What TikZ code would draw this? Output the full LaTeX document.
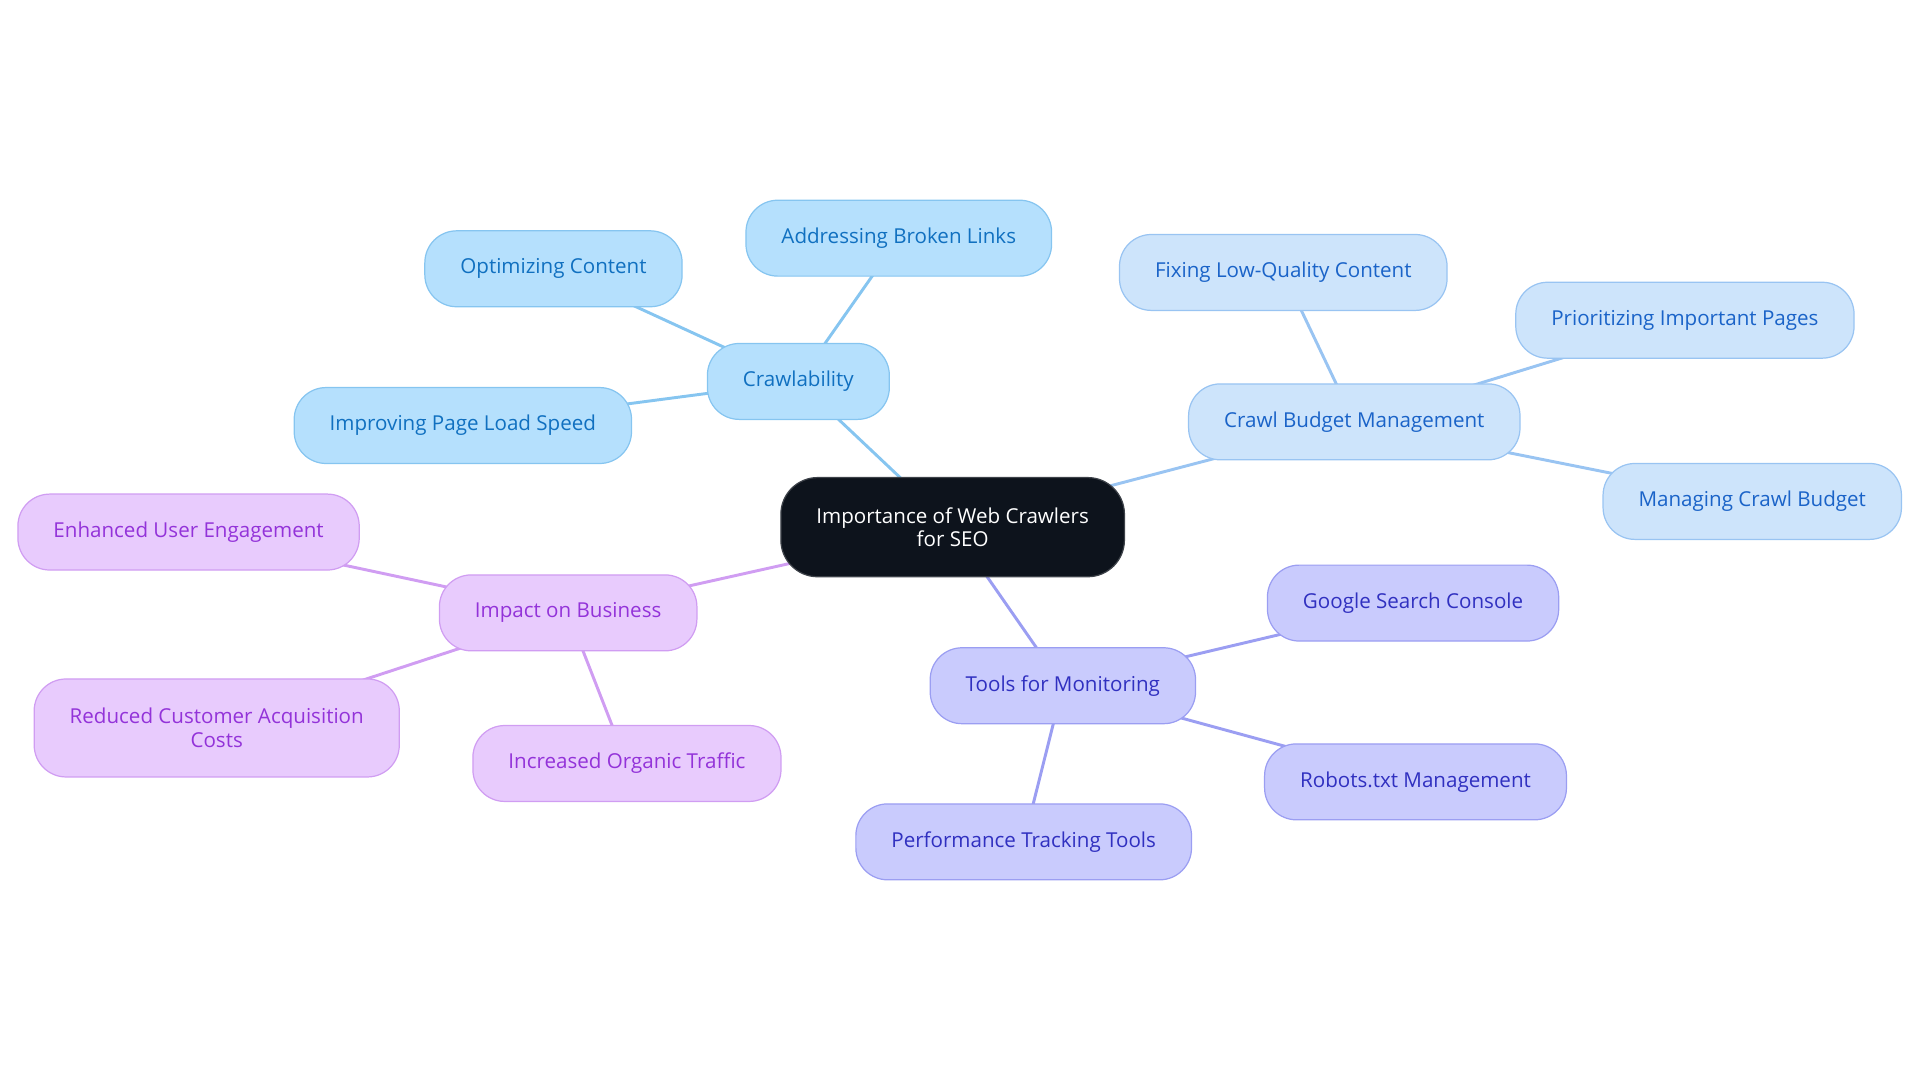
\documentclass[tikz,border=0pt]{standalone}
\usepackage{fontspec}
\setmainfont{Open Sans}
\usepackage{xcolor}
\usepackage{tikz}
\usetikzlibrary{positioning,backgrounds}

\definecolor{rootfill}{HTML}{0D131C}
\definecolor{crawlfill}{HTML}{B5E0FD}
\definecolor{crawldraw}{HTML}{86C5F0}
\definecolor{crawltext}{HTML}{1070C0}
\definecolor{budgetfill}{HTML}{CDE4FB}
\definecolor{budgetdraw}{HTML}{99C4F2}
\definecolor{budgettext}{HTML}{1A63C8}
\definecolor{toolfill}{HTML}{C9CBFD}
\definecolor{tooldraw}{HTML}{9B9EF2}
\definecolor{tooltext}{HTML}{3030C0}
\definecolor{bizfill}{HTML}{E8CBFD}
\definecolor{bizdraw}{HTML}{D09DF2}
\definecolor{biztext}{HTML}{9333D9}

\tikzset{
    topic/.style={rounded corners=13pt, minimum height=31pt, inner xsep=14.5pt,
        align=center, font=\fontsize{8.4}{9.6}\selectfont, line width=0.5pt},
    root/.style={topic, fill=rootfill, draw=rootfill!80!white, text=white,
        rounded corners=15pt, minimum height=40.5pt},
    crawl/.style={topic, fill=crawlfill, draw=crawldraw, text=crawltext},
    budget/.style={topic, fill=budgetfill, draw=budgetdraw, text=budgettext},
    tool/.style={topic, fill=toolfill, draw=tooldraw, text=tooltext},
    biz/.style={topic, fill=bizfill, draw=bizdraw, text=biztext},
    link/.style={line width=1.2pt}
}

\begin{document}
\begin{tikzpicture}[x=0.5pt, y=-0.5pt]
    \useasboundingbox (0,0) rectangle (1568,884.4);

    % Central node
    \node[root, minimum width=139pt] (root) at (778,430.5) {Importance of Web Crawlers\\for SEO};

    % Crawlability branch
    \node[crawl] (crawl) at (652,311.5) {Crawlability};
    \node[crawl] (broken) at (734,194.5) {Addressing Broken Links};
    \node[crawl] (optim) at (452,219.5) {Optimizing Content};
    \node[crawl] (speed) at (378,347.5) {Improving Page Load Speed};

    % Crawl budget branch
    \node[budget] (budget) at (1106,344.5) {Crawl Budget Management};
    \node[budget] (lowq) at (1048,222.5) {Fixing Low-Quality Content};
    \node[budget] (prio) at (1376,261.5) {Prioritizing Important Pages};
    \node[budget] (manage) at (1431,409.5) {Managing Crawl Budget};

    % Monitoring branch
    \node[tool] (tools) at (868,560) {Tools for Monitoring};
    \node[tool] (gsc) at (1154,492.5) {Google Search Console};
    \node[tool] (robots) at (1156,638.5) {Robots.txt Management};
    \node[tool] (perf) at (836,687.5) {Performance Tracking Tools};

    % Business branch
    \node[biz] (biz) at (464,500.5) {Impact on Business};
    \node[biz] (engage) at (154,434.5) {Enhanced User Engagement};
    \node[biz, minimum height=40pt] (cost) at (177,594.5) {Reduced Customer Acquisition\\Costs};
    \node[biz] (traffic) at (512,623.5) {Increased Organic Traffic};

    % Connectors
    \begin{scope}[on background layer]
        \draw[link, crawldraw] (root.center) -- (crawl.center);
        \draw[link, crawldraw] (crawl.center) -- (broken.center);
        \draw[link, crawldraw] (crawl.center) -- (optim.center);
        \draw[link, crawldraw] (crawl.center) -- (speed.center);
        \draw[link, budgetdraw] (root.center) -- (budget.center);
        \draw[link, budgetdraw] (budget.center) -- (lowq.center);
        \draw[link, budgetdraw] (budget.center) -- (prio.center);
        \draw[link, budgetdraw] (budget.center) -- (manage.center);
        \draw[link, tooldraw] (root.center) -- (tools.center);
        \draw[link, tooldraw] (tools.center) -- (gsc.center);
        \draw[link, tooldraw] (tools.center) -- (robots.center);
        \draw[link, tooldraw] (tools.center) -- (perf.center);
        \draw[link, bizdraw] (root.center) -- (biz.center);
        \draw[link, bizdraw] (biz.center) -- (engage.center);
        \draw[link, bizdraw] (biz.center) -- (cost.center);
        \draw[link, bizdraw] (biz.center) -- (traffic.center);
    \end{scope}
\end{tikzpicture}
\end{document}
